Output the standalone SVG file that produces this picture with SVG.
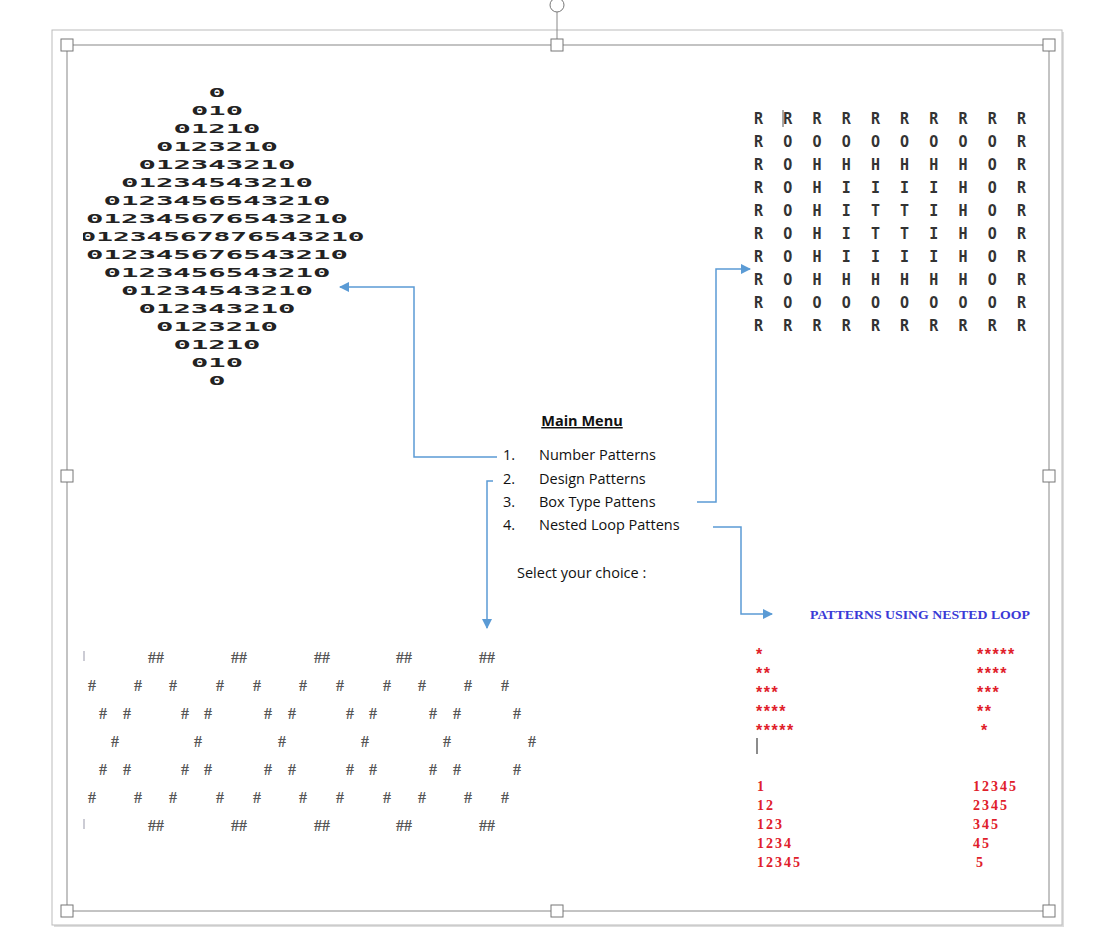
<svg xmlns="http://www.w3.org/2000/svg" width="1104" height="950" viewBox="0 0 1104 950">
<defs>
<style>
.d{font-family:"DejaVu Sans Mono",monospace;font-weight:bold;font-size:13px;fill:#222;text-anchor:middle}
.r{font-family:"DejaVu Sans Mono",monospace;font-weight:bold;font-size:15px;fill:#333;text-anchor:middle}
.h{font-family:"Liberation Serif",serif;font-weight:bold;font-size:16px;fill:#555;text-anchor:middle}
.s{font-family:"Liberation Sans",sans-serif;font-weight:bold;font-size:16px;fill:#e0202a;letter-spacing:1.5px}
.n{font-family:"Liberation Serif",serif;font-weight:bold;font-size:14px;fill:#e0202a;letter-spacing:2px}
.m{font-family:"Open Sans","Liberation Sans",sans-serif;font-size:14.5px;fill:#111}
.c{fill:none;stroke:#5b9bd5;stroke-width:1.5}
.hd{fill:#fff;stroke:#777;stroke-width:1}
</style>
<marker id="a" viewBox="0 0 10 10" refX="9" refY="5" markerWidth="7" markerHeight="7" orient="auto"><path d="M0,0L10,5L0,10z" fill="#5b9bd5"/></marker>
<clipPath id="cl"><rect x="83" y="0" width="1000" height="950"/></clipPath>
</defs>
<rect width="1104" height="950" fill="#fff"/>
<rect x="54" y="32" width="1010" height="895" fill="#ddd"/>
<rect x="52" y="30" width="1010" height="895" fill="#fff" stroke="#bbb"/>
<g id="frame">
<rect x="67" y="45" width="982" height="866" fill="none" stroke="#888"/>
<line x1="557" y1="11" x2="557" y2="45" stroke="#888"/>
<circle cx="557" cy="5" r="7" class="hd"/>
<rect x="61" y="39" width="12" height="12" class="hd"/><rect x="551" y="39" width="12" height="12" class="hd"/><rect x="1043" y="39" width="12" height="12" class="hd"/>
<rect x="61" y="470" width="12" height="12" class="hd"/><rect x="1043" y="470" width="12" height="12" class="hd"/>
<rect x="61" y="905" width="12" height="12" class="hd"/><rect x="551" y="905" width="12" height="12" class="hd"/><rect x="1043" y="905" width="12" height="12" class="hd"/>
</g>
<g id="number-pattern" clip-path="url(#cl)">
<text class="d" x="217" y="97" textLength="17" lengthAdjust="spacingAndGlyphs">0</text>
<text class="d" x="217" y="115" textLength="52" lengthAdjust="spacingAndGlyphs">010</text>
<text class="d" x="217" y="133" textLength="87" lengthAdjust="spacingAndGlyphs">01210</text>
<text class="d" x="217" y="151" textLength="122" lengthAdjust="spacingAndGlyphs">0123210</text>
<text class="d" x="217" y="169" textLength="157" lengthAdjust="spacingAndGlyphs">012343210</text>
<text class="d" x="217" y="187" textLength="192" lengthAdjust="spacingAndGlyphs">01234543210</text>
<text class="d" x="217" y="205" textLength="227" lengthAdjust="spacingAndGlyphs">0123456543210</text>
<text class="d" x="217" y="223" textLength="262" lengthAdjust="spacingAndGlyphs">012345676543210</text>
<text class="d" x="222" y="241" textLength="285" lengthAdjust="spacingAndGlyphs">01234567876543210</text>
<text class="d" x="217" y="259" textLength="262" lengthAdjust="spacingAndGlyphs">012345676543210</text>
<text class="d" x="217" y="277" textLength="227" lengthAdjust="spacingAndGlyphs">0123456543210</text>
<text class="d" x="217" y="295" textLength="192" lengthAdjust="spacingAndGlyphs">01234543210</text>
<text class="d" x="217" y="313" textLength="157" lengthAdjust="spacingAndGlyphs">012343210</text>
<text class="d" x="217" y="331" textLength="122" lengthAdjust="spacingAndGlyphs">0123210</text>
<text class="d" x="217" y="349" textLength="87" lengthAdjust="spacingAndGlyphs">01210</text>
<text class="d" x="217" y="367" textLength="52" lengthAdjust="spacingAndGlyphs">010</text>
<text class="d" x="217" y="385" textLength="17" lengthAdjust="spacingAndGlyphs">0</text>
</g>
<g id="box-pattern">
<text class="r" x="890" y="124" textLength="272" lengthAdjust="spacing">RRRRRRRRRR</text>
<text class="r" x="890" y="147" textLength="272" lengthAdjust="spacing">ROOOOOOOOR</text>
<text class="r" x="890" y="170" textLength="272" lengthAdjust="spacing">ROHHHHHHOR</text>
<text class="r" x="890" y="193" textLength="272" lengthAdjust="spacing">ROHIIIIHOR</text>
<text class="r" x="890" y="216" textLength="272" lengthAdjust="spacing">ROHITTIHOR</text>
<text class="r" x="890" y="239" textLength="272" lengthAdjust="spacing">ROHITTIHOR</text>
<text class="r" x="890" y="262" textLength="272" lengthAdjust="spacing">ROHIIIIHOR</text>
<text class="r" x="890" y="285" textLength="272" lengthAdjust="spacing">ROHHHHHHOR</text>
<text class="r" x="890" y="308" textLength="272" lengthAdjust="spacing">ROOOOOOOOR</text>
<text class="r" x="890" y="331" textLength="272" lengthAdjust="spacing">RRRRRRRRRR</text>
<line x1="783" y1="110" x2="783" y2="127" stroke="#555"/>
</g>
<g id="main-menu">
<text class="m" x="582" y="426" text-anchor="middle" font-weight="bold" text-decoration="underline">Main Menu</text>
<text class="m" x="503" y="460">1.</text><text class="m" x="539" y="460">Number Patterns</text>
<text class="m" x="503" y="484">2.</text><text class="m" x="539" y="484">Design Patterns</text>
<text class="m" x="503" y="507">3.</text><text class="m" x="539" y="507">Box Type Pattens</text>
<text class="m" x="503" y="530">4.</text><text class="m" x="539" y="530">Nested Loop Pattens</text>
<text class="m" x="517" y="578">Select your choice :</text>
</g>
<g id="design-pattern">
<line x1="84" y1="651" x2="84" y2="661" stroke="#99a" stroke-width="1"/>
<line x1="84" y1="819" x2="84" y2="829" stroke="#99a" stroke-width="1"/>
<g>
<text class="h" x="156" y="663">##</text><text class="h" x="239" y="663">##</text><text class="h" x="322" y="663">##</text><text class="h" x="404" y="663">##</text><text class="h" x="487" y="663">##</text>
<text class="h" x="156" y="831">##</text><text class="h" x="239" y="831">##</text><text class="h" x="322" y="831">##</text><text class="h" x="404" y="831">##</text><text class="h" x="487" y="831">##</text>
</g>
<g>
<text class="h" x="92" y="691">#</text><text class="h" x="138" y="691">#</text><text class="h" x="173" y="691">#</text><text class="h" x="220" y="691">#</text><text class="h" x="257" y="691">#</text><text class="h" x="303" y="691">#</text><text class="h" x="340" y="691">#</text><text class="h" x="387" y="691">#</text><text class="h" x="422" y="691">#</text><text class="h" x="468" y="691">#</text><text class="h" x="505" y="691">#</text>
<text class="h" x="92" y="803">#</text><text class="h" x="138" y="803">#</text><text class="h" x="173" y="803">#</text><text class="h" x="220" y="803">#</text><text class="h" x="257" y="803">#</text><text class="h" x="303" y="803">#</text><text class="h" x="340" y="803">#</text><text class="h" x="387" y="803">#</text><text class="h" x="422" y="803">#</text><text class="h" x="468" y="803">#</text><text class="h" x="505" y="803">#</text>
</g>
<g>
<text class="h" x="103" y="719">#</text><text class="h" x="127" y="719">#</text><text class="h" x="185" y="719">#</text><text class="h" x="208" y="719">#</text><text class="h" x="268" y="719">#</text><text class="h" x="292" y="719">#</text><text class="h" x="350" y="719">#</text><text class="h" x="373" y="719">#</text><text class="h" x="433" y="719">#</text><text class="h" x="457" y="719">#</text><text class="h" x="517" y="719">#</text>
<text class="h" x="103" y="775">#</text><text class="h" x="127" y="775">#</text><text class="h" x="185" y="775">#</text><text class="h" x="208" y="775">#</text><text class="h" x="268" y="775">#</text><text class="h" x="292" y="775">#</text><text class="h" x="350" y="775">#</text><text class="h" x="373" y="775">#</text><text class="h" x="433" y="775">#</text><text class="h" x="457" y="775">#</text><text class="h" x="517" y="775">#</text>
</g>
<text class="h" x="115" y="747">#</text><text class="h" x="198" y="747">#</text><text class="h" x="282" y="747">#</text><text class="h" x="365" y="747">#</text><text class="h" x="447" y="747">#</text><text class="h" x="532" y="747">#</text>
</g>
<g id="nested-pattern">
<text x="810" y="619" font-family="Liberation Serif,serif" font-weight="bold" font-size="13" fill="#3a3ad6" textLength="220" lengthAdjust="spacingAndGlyphs">PATTERNS USING NESTED LOOP</text>
<text class="s" x="756" y="660">*</text>
<text class="s" x="756" y="679">**</text>
<text class="s" x="756" y="698">***</text>
<text class="s" x="756" y="717">****</text>
<text class="s" x="756" y="736">*****</text>
<text class="s" x="977" y="660">*****</text>
<text class="s" x="977" y="679">****</text>
<text class="s" x="977" y="698">***</text>
<text class="s" x="977" y="717">**</text>
<text class="s" x="981" y="736">*</text>
<line x1="757" y1="738" x2="757" y2="754" stroke="#666" stroke-width="1.5"/>
<text class="n" x="757" y="791">1</text>
<text class="n" x="757" y="810">12</text>
<text class="n" x="757" y="829">123</text>
<text class="n" x="757" y="848">1234</text>
<text class="n" x="757" y="867">12345</text>
<text class="n" x="973" y="791">12345</text>
<text class="n" x="973" y="810">2345</text>
<text class="n" x="973" y="829">345</text>
<text class="n" x="973" y="848">45</text>
<text class="n" x="976" y="867">5</text>
</g>
<g id="connectors">
<path class="c" d="M497,457H414V287H340" marker-end="url(#a)"/>
<path class="c" d="M493,481H487V628" marker-end="url(#a)"/>
<path class="c" d="M697,502H716V269H750" marker-end="url(#a)"/>
<path class="c" d="M713,527H741V614H772" marker-end="url(#a)"/>
</g>
</svg>
